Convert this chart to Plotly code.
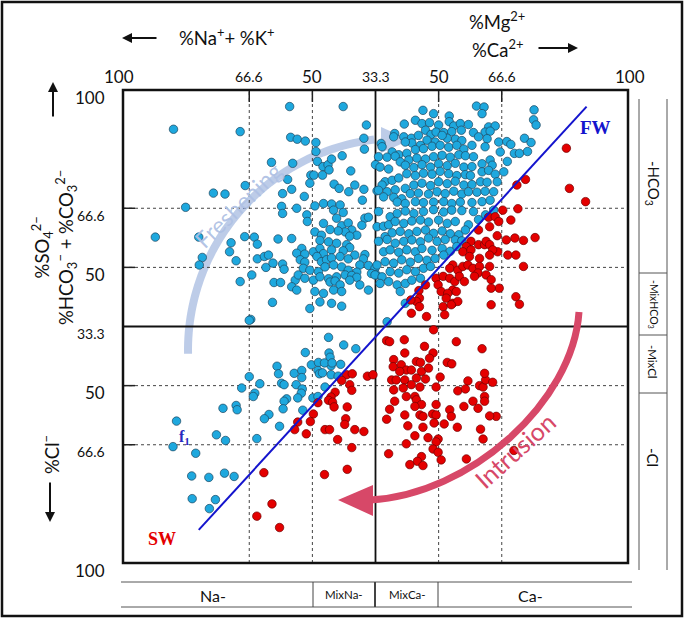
import numpy as np
import plotly.graph_objects as go

# ---------------- DATA (diagram units: 0-100 across / up the HFE-D box) ----------------
x_tick_pos = [0, 25, 37.5, 50, 62.5, 75, 100]
x_tick_txt = ["100", "66.6", "50", "33.3", "50", "66.6", "100"]
y_tick_pos = [100, 75, 62.5, 50, 37.5, 25, 0]
y_tick_txt = ["100", "66.6", "50", "33.3", "50", "66.6", "100"]

# freshening samples (blue) - upper left quadrant, outer part
fresh_ul = [
(10.0,91.7),(23.2,91.2),(33.0,96.5),(43.6,96.5),(48.2,92.6),(47.7,89.8),(47.8,87.5),
(33.2,90.0),(34.5,89.6),(36.1,89.2),(38.2,88.9),(38.2,87.0),(29.4,84.7),(33.6,84.5),
(38.5,84.9),(39.6,83.8),(40.6,84.2),(41.3,85.4),(43.4,86.1),
(37.2,82.0),(37.8,82.0),(39.5,82.0),(40.8,83.1),(32.6,81.1),(37.0,80.3),(45.1,82.9),
(24.2,79.8),(17.9,78.2),(20.2,78.0),(31.6,78.1),(33.4,79.0),(35.9,77.5),
(41.8,80.1),(42.8,79.2),(44.7,78.5),(45.9,79.9),(47.7,79.0),(47.4,76.7),
(12.4,75.2),(31.4,75.4),(31.6,73.9),
(6.4,68.9),(15.0,68.9),(21.4,67.7),(21.1,65.8),(24.1,69.0),(26.0,68.9),(26.6,67.4),(30.7,68.5),
(15.7,64.6),(15.1,63.0),(22.4,63.9),(23.2,59.5),
(26.6,64.3),(28.0,64.8),(28.8,65.1),(28.3,62.5),(29.7,63.4),(31.6,63.2),(31.9,62.1),
(25.5,60.9),(29.9,59.3),(31.2,59.3),(29.6,55.1),(25.3,51.5),(50.0,84.2),(50.3,78.7),
]
# freshening samples (blue) - upper left quadrant, dense core
fresh_ul_core = [
(34.4,75.0),(36.4,73.6),(36.5,72.2),(39.7,76.0),(41.3,75.9),(43.0,75.7),(38.0,75.5),(41.7,74.6),(43.6,74.1),
(42.3,72.9),(39.7,71.8),(43.3,71.3),(44.6,71.9),(45.3,70.4),(44.0,70.0),(42.6,70.2),(41.0,70.5),(47.9,72.9),
(47.3,71.4),(48.6,73.1),(46.3,69.3),(44.9,69.1),(33.4,68.6),(38.0,70.0),(39.3,69.3),(39.0,68.2),(40.7,67.9),
(42.3,67.6),(44.3,67.3),(44.9,66.7),(35.4,66.5),(34.4,65.5),(36.0,65.3),(37.7,65.8),(39.0,66.5),(39.7,65.4),
(41.3,66.2),(43.6,66.0),(45.9,65.1),(47.9,65.2),(47.6,64.3),(35.1,64.1),(36.0,63.6),(38.4,64.8),(39.3,63.7),
(40.3,64.1),(41.3,64.5),(43.0,64.8),(44.6,64.3),(46.9,63.0),(48.6,62.9),(49.9,62.3),(35.7,62.3),(37.0,61.9),
(38.7,61.6),(40.0,62.6),(41.7,63.0),(43.3,62.6),(44.6,61.9),(46.3,61.5),(34.1,59.8),(34.7,60.9),(36.0,60.2),
(37.7,59.8),(39.0,60.5),(40.7,60.1),(42.3,60.5),(44.0,60.9),(45.3,60.8),(46.3,60.4),(49.2,61.2),(50.2,60.9),
(41.0,59.4),(42.0,59.6),(43.0,58.8),(44.9,59.8),(46.9,58.8),(33.4,58.4),(34.4,57.7),(38.0,57.4),(39.7,57.0),
(41.7,57.7),(43.3,57.4),(48.6,57.7),(39.0,55.2),(41.3,54.9),(43.3,54.3),(37.0,53.8),
]
# freshening samples (blue) - upper right quadrant
fresh_ur = [
(59.4,95.7),(61.5,95.0),(64.6,94.5),(64.6,93.3),(70.0,96.6),(71.5,96.4),(71.1,95.0),(55.7,92.8),(57.9,93.6),
(59.2,92.9),(60.7,93.1),(62.5,92.6),(65.5,92.4),(66.8,92.9),(68.4,92.7),(72.4,92.2),(73.7,92.4),(53.8,90.8),
(53.6,90.1),(51.1,88.7),(51.3,88.0),(55.6,90.1),(57.1,89.8),(58.5,90.4),(59.9,91.5),(61.0,90.6),(62.0,91.1),
(63.5,91.0),(65.1,91.2),(67.0,91.5),(69.4,91.0),(71.7,91.1),(72.7,91.3),(74.4,89.0),(76.0,89.1),(72.1,89.7),
(70.4,90.1),(65.8,89.6),(67.1,89.3),(64.2,89.8),(63.2,90.4),(61.8,89.0),(60.2,89.4),(58.9,88.3),(57.2,88.8),
(55.9,89.0),(53.3,86.9),(54.6,86.3),(56.2,86.6),(57.9,87.4),(59.5,87.6),(61.2,88.1),(62.8,88.3),(64.5,87.9),
(66.1,88.3),(67.5,87.5),(69.1,88.3),(71.7,88.0),(74.7,86.9),(50.6,85.9),(52.3,85.8),(53.9,86.0),(54.9,84.8),
(56.6,85.2),(58.2,85.6),(59.9,85.4),(61.5,85.9),(63.2,86.2),(64.8,85.8),(66.5,86.3),(67.8,86.1),(69.4,85.9),
(71.1,84.4),(72.7,85.2),(73.1,84.1),(50.9,83.7),(52.6,83.3),(55.9,84.1),(57.6,83.6),(59.2,84.2),(60.9,83.7),
(62.5,84.4),(64.2,84.0),(65.8,84.5),(67.5,83.7),(69.1,83.8),(51.9,80.6),(51.3,79.9),(53.3,80.9),(54.6,81.4),
(56.2,82.3),(57.9,81.9),(59.5,82.4),(61.2,82.2),(62.8,82.8),(64.5,82.3),(66.1,81.9),(67.8,82.1),(68.8,81.9),
(71.1,82.7),(72.4,83.0),(73.7,82.2),(75.4,82.7),(50.6,78.8),(52.3,78.5),(53.9,78.9),(55.9,79.2),(57.6,79.9),
(59.2,80.3),(60.9,79.8),(62.5,80.6),(64.2,80.2),(65.8,80.7),(67.5,79.9),(69.1,80.0),(70.8,80.6),(72.1,80.5),
(74.1,80.6),(51.6,77.4),(53.6,77.3),(55.2,77.0),(56.9,78.1),(58.5,78.2),(60.5,78.0),(62.2,78.5),(63.8,78.1),
(65.5,78.6),(67.1,78.0),(68.4,78.5),(70.1,78.4),(71.7,78.6),(73.4,78.5),(54.3,76.3),(55.9,76.0),(57.9,76.4),
(59.5,76.2),(61.5,76.3),(63.5,76.4),(65.1,76.0),(66.8,76.3),(69.1,76.2),(71.1,76.4),(72.7,76.7),
(50.6,74.3),(52.9,73.2),(54.3,73.9),(55.9,74.4),(57.6,73.9),(59.5,74.3),(61.5,74.7),(63.5,74.2),(65.1,74.6),
(67.1,74.5),(69.4,74.3),(50.3,71.1),(51.6,71.2),(52.6,71.5),(53.9,72.2),(55.6,71.8),(57.2,72.3),(58.9,72.5),
(60.5,72.1),(62.5,72.5),(64.2,71.8),(65.8,72.2),(68.4,71.5),(70.4,72.6),(71.8,73.6),(73.4,74.6),(51.9,69.0),
(53.3,69.8),(54.9,70.1),(56.6,69.6),(58.2,70.1),(59.9,70.4),(61.5,69.7),(63.2,70.2),(64.8,69.6),(66.5,69.4),
(67.8,70.4),(50.6,68.0),(52.3,68.4),(53.9,67.6),(55.6,68.0),(57.2,68.3),(58.9,67.9),(60.5,68.7),(62.2,68.0),
(63.8,68.4),(65.8,68.3),(67.1,68.1),(51.6,65.8),(52.9,66.2),(54.6,65.7),(56.2,66.2),(57.9,65.8),(59.2,66.5),
(61.2,66.1),(63.2,66.5),(64.8,65.9),(66.1,66.9),(50.3,63.0),(51.9,63.7),(53.6,63.4),(55.2,64.1),(56.9,63.6),
(58.5,64.4),(60.2,64.0),(61.8,64.4),(63.5,65.1),(49.9,60.9),(51.3,60.5),(52.9,61.6),(54.6,61.3),(56.2,62.0),
(57.9,61.6),(59.5,62.3),(60.9,62.7),(50.9,59.1),(52.6,59.5),(54.3,58.8),(55.9,59.1),(57.2,59.8),(58.9,60.2),
(54.9,57.4),(55.9,54.9),(52.3,51.0),
(81.4,95.8),(81.3,93.7),(81.8,92.6),(79.5,89.8),(80.8,88.9),(76.8,88.5),(77.5,86.6),(78.5,86.6),(80.1,87.0),(76.1,84.9),
]
# freshening samples (blue) - lower half
fresh_low = [
(25.0,51.3),(40.7,47.7),(43.7,46.1),(46.1,45.3),(40.8,44.4),(41.0,43.5),(43.1,42.0),(41.2,41.7),(37.3,41.9),(38.7,42.4),
(39.9,42.3),(41.4,42.3),(36.1,44.5),
(30.5,41.6),(30.8,40.0),(33.9,40.1),(35.4,40.7),(35.4,39.2),(38.6,40.7),(38.9,40.0),(39.5,40.2),(41.2,39.8),(42.6,39.5),
(25.0,39.4),(27.1,37.9),(31.4,38.0),(31.9,37.7),(34.3,37.7),(35.5,36.8),(35.3,35.9),(34.6,34.9),(37.6,34.9),(38.6,35.2),
(40.0,37.2),(23.5,37.0),
(26.1,35.9),(25.8,35.2),(32.4,34.7),(31.9,34.2),(31.7,32.6),(35.6,32.3),(28.9,31.4),(28.0,30.5),(31.0,28.9),(26.5,26.3),
(22.4,33.3),(22.6,32.4),(19.8,32.7),(10.6,30.0),(18.5,27.1),(20.3,25.9),(9.9,24.6),(14.4,23.2),
(13.6,18.4),(17.0,18.1),(20.1,19.0),(22.0,18.3),(13.7,13.6),(18.3,13.4),(17.1,11.5),
]

# intrusion samples (red) - upper half
intr_up = [
(87.8,87.7),(88.4,79.2),(91.6,76.4),(79.7,81.1),(78.0,79.9),(78.2,74.9),(75.2,74.6),(76.8,72.5),
(72.4,73.1),(73.7,73.2),(74.4,72.2),(72.6,71.1),(70.4,70.4),(74.1,69.2),
(75.9,68.3),(77.6,68.7),(79.3,68.2),(81.6,68.8),
(68.9,68.0),(68.0,66.9),(67.3,65.8),(68.9,66.2),(70.4,67.3),(71.6,67.3),(71.9,68.0),(72.6,67.3),
(74.2,65.8),(73.2,66.2),(76.2,65.1),(77.8,65.1),(68.6,64.8),(70.6,64.4),(72.6,65.1),(79.3,62.7),
(65.3,63.0),(64.7,62.3),(66.3,61.9),(67.3,62.7),(68.3,63.0),
(69.3,62.3),(70.6,62.7),(72.6,62.7),(70.3,61.3),(69.6,60.6),
(71.9,60.9),(72.9,59.9),(74.5,58.1),(72.9,58.1),
(62.0,60.2),(63.4,60.6),(64.7,60.2),(65.7,59.5),(66.6,60.6),(67.6,59.5),(65.3,57.7),
(62.4,58.8),(63.0,57.4),(64.3,57.0),(66.0,57.4),(64.0,56.0),(65.3,54.9),(66.3,55.3),
(58.6,57.6),(59.9,58.8),(58.7,56.0),(58.1,55.3),
(57.0,55.6),(57.1,52.8),
(58.7,54.2),(60.1,52.1),(63.4,54.2),(65.0,54.6),(63.7,52.5),
(72.9,54.6),(77.8,56.3),(78.5,54.7),(61.5,49.3),
]
# intrusion samples (red) - lower left
intr_ll = [
(44.3,39.8),(45.4,40.0),(48.4,39.5),(43.3,38.6),(44.9,37.7),(45.3,36.5),(42.0,36.1),(41.2,35.1),(40.7,34.4),(41.5,34.0),
(41.8,33.0),(44.4,33.0),(38.6,33.9),(37.7,31.5),(34.6,29.8),(34.0,28.2),(37.1,29.9),(36.3,27.3),(40.0,28.2),(40.9,28.2),
(42.5,26.1),(44.1,30.5),(43.9,29.3),(45.9,28.2),(47.7,27.8),(45.3,24.4),(44.4,19.8),(39.9,18.7),(27.9,19.1),(29.5,12.5),
(26.5,9.9),(31.0,7.5),
]
# intrusion samples (red) - lower right
intr_lr = [
(52.2,47.0),(52.8,46.8),(55.7,47.2),(66.0,46.8),(71.1,45.3),(59.7,45.8),(55.8,44.4),(61.4,44.4),(60.7,43.3),(64.2,42.4),
(65.1,42.1),(53.6,43.0),(53.5,41.5),(55.1,41.9),(58.1,42.6),(58.9,42.4),(56.1,40.8),(57.1,40.8),(59.1,40.5),(60.5,41.2),
(54.8,40.5),(53.2,38.7),(54.1,38.7),(55.8,38.7),(58.1,39.1),(59.9,38.9),(49.5,39.8),(57.1,37.7),(58.8,37.2),(55.5,37.0),
(53.6,36.6),(62.0,37.2),(62.8,39.3),(68.3,38.5),(66.3,36.4),(67.8,36.8),(70.6,37.5),(71.3,37.2),(71.8,38.7),(73.2,38.2),
(71.6,40.1),(71.6,35.2),(71.6,34.2),(69.3,34.2),(67.5,33.1),(70.3,32.7),(53.8,34.2),(52.8,32.5),(56.1,35.2),(57.8,35.2),
(58.1,34.5),(59.1,33.5),(62.0,33.5),(57.8,33.1),(61.3,31.5),(62.0,31.3),(64.7,32.4),(65.0,31.0),(58.8,31.3),(59.4,31.0),
(55.8,31.3),(52.2,30.4),(56.4,29.0),(59.4,28.7),(61.6,29.6),(63.6,29.4),(66.2,28.7),(70.8,28.3),(71.3,26.2),(73.9,31.0),
(72.6,31.1),(57.8,26.9),(60.4,26.5),(62.4,26.2),(62.0,25.6),(56.1,25.2),(61.4,24.1),(62.4,23.4),(63.0,21.8),(68.0,22.0),
(52.6,23.1),(59.1,22.5),(58.3,21.5),(56.8,20.8),(59.4,20.6),(77.4,23.8),
]
# mixing line SW -> FW
mix_x = [15.0, 91.8]
mix_y = [7.0, 96.5]

blue = fresh_ul + fresh_ul_core + fresh_ur + fresh_low
red = intr_up + intr_ll + intr_lr
blue_x = [p[0] for p in blue]; blue_y = [p[1] for p in blue]
red_x = [p[0] for p in red]; red_y = [p[1] for p in red]

# ---------------- LAYOUT HELPERS ----------------
W, H = 685, 620
L, T, R, B = 123, 90, 57, 57
PW, PH = W - L - R, H - T - B
def fx(p): return (p - L) / PW
def fy(p): return (H - B - p) / PH
FONT = "Lato, Open Sans, sans-serif"
SERIF = "Liberation Serif, DejaVu Serif, serif"

fig = go.Figure()
fig.add_trace(go.Scatter(x=blue_x, y=blue_y, mode="markers",
    marker=dict(size=8.5, color="rgb(30,168,222)", line=dict(color="rgb(30,70,95)", width=0.7)),
    showlegend=False, hoverinfo="skip"))
fig.add_trace(go.Scatter(x=red_x, y=red_y, mode="markers",
    marker=dict(size=8.5, color="rgb(228,0,0)", line=dict(color="rgb(110,0,0)", width=0.7)),
    showlegend=False, hoverinfo="skip"))
fig.add_trace(go.Scatter(x=mix_x, y=mix_y, mode="lines",
    line=dict(color="rgb(20,20,205)", width=2), showlegend=False, hoverinfo="skip"))

shapes = []
for v in [25, 37.5, 62.5, 75]:
    shapes.append(dict(type="line", xref="x", yref="y", x0=v, x1=v, y0=0, y1=100, layer="below",
                       line=dict(color="#444", width=1, dash="3px,3px")))
    shapes.append(dict(type="line", xref="x", yref="y", x0=0, x1=100, y0=v, y1=v, layer="below",
                       line=dict(color="#444", width=1, dash="3px,3px")))
    shapes.append(dict(type="line", xref="x", yref="paper", x0=v, x1=v, y0=1, y1=1 - 12 / PH,
                       line=dict(color="#222", width=1.5)))
    shapes.append(dict(type="line", xref="paper", yref="y", x0=0, x1=12 / PW, y0=v, y1=v,
                       line=dict(color="#222", width=1.5)))
shapes.append(dict(type="line", xref="x", yref="y", x0=50, x1=50, y0=0, y1=100, layer="below",
                   line=dict(color="#111", width=1.8)))
shapes.append(dict(type="line", xref="x", yref="y", x0=0, x1=100, y0=50, y1=50, layer="below",
                   line=dict(color="#111", width=1.8)))
shapes.append(dict(type="rect", xref="paper", yref="paper", x0=0, x1=1, y0=0, y1=1,
                   line=dict(color="#111", width=2.5)))
shapes.append(dict(type="rect", xref="paper", yref="paper", x0=fx(2), x1=fx(682), y0=fy(2), y1=fy(616),
                   line=dict(color="#111", width=2.5)))
for xx in [639, 667]:
    shapes.append(dict(type="line", xref="paper", yref="paper", x0=fx(xx), x1=fx(xx), y0=fy(99), y1=fy(570),
                       line=dict(color="#555", width=1)))
for yy in [273, 335, 393]:
    shapes.append(dict(type="line", xref="paper", yref="paper", x0=fx(639), x1=fx(667), y0=fy(yy), y1=fy(yy),
                       line=dict(color="#555", width=1)))
for yy in [582, 607]:
    shapes.append(dict(type="line", xref="paper", yref="paper", x0=fx(121), x1=fx(632), y0=fy(yy), y1=fy(yy),
                       line=dict(color="#555", width=1)))
for xx, wd in [(313, 1), (375, 2), (438, 1)]:
    shapes.append(dict(type="line", xref="paper", yref="paper", x0=fx(xx), x1=fx(xx), y0=fy(582), y1=fy(607),
                       line=dict(color="#444", width=wd)))

# Freshening arc + arrowhead (behind the samples)
FR = "rgba(182,199,230,0.9)"
th = np.radians(np.linspace(181, 97, 60))
cx, cy, rr = 400, 350, 212
ax_ = cx + rr * np.cos(th); ay_ = cy - rr * np.sin(th)
path = "M " + " L ".join(f"{fx(a):.5f},{fy(b):.5f}" for a, b in zip(ax_, ay_))
shapes.append(dict(type="path", xref="paper", yref="paper", path=path, layer="below",
                   line=dict(color=FR, width=8)))
tri = [(410, 140), (381, 127), (381, 153)]
shapes.append(dict(type="path", xref="paper", yref="paper", layer="below",
                   path="M " + " L ".join(f"{fx(a):.5f},{fy(b):.5f}" for a, b in tri) + " Z",
                   fillcolor=FR, line=dict(width=0)))
# Intrusion arc + arrowhead
IN = "rgb(215,72,104)"
P = [(579, 312), (573, 402), (470, 495), (370, 500)]
path = (f"M {fx(P[0][0]):.5f},{fy(P[0][1]):.5f} C " +
        " ".join(f"{fx(a):.5f},{fy(b):.5f}" for a, b in P[1:]))
shapes.append(dict(type="path", xref="paper", yref="paper", path=path,
                   line=dict(color=IN, width=7)))
tri = [(338, 500), (373, 485), (373, 516)]
shapes.append(dict(type="path", xref="paper", yref="paper",
                   path="M " + " L ".join(f"{fx(a):.5f},{fy(b):.5f}" for a, b in tri) + " Z",
                   fillcolor=IN, line=dict(width=0)))

ann = []
def txt(x, y, t, size, color="#111", angle=0, family=FONT, xanchor="center"):
    ann.append(dict(x=fx(x), y=fy(y), xref="paper", yref="paper", text=t, showarrow=False,
                    font=dict(size=size, color=color, family=family), textangle=angle,
                    xanchor=xanchor, yanchor="middle"))
def arrow(hx, hy, tx, ty):
    ann.append(dict(x=fx(hx), y=fy(hy), xref="paper", yref="paper", ax=tx - hx, ay=ty - hy,
                    axref="pixel", ayref="pixel", text="", showarrow=True, arrowhead=2,
                    arrowsize=1, arrowwidth=2, arrowcolor="#111"))

for v, t in zip(x_tick_pos, x_tick_txt):
    big = t in ("100", "50")
    ann.append(dict(x=v, y=fy(77), xref="x", yref="paper", text=t, showarrow=False,
                    font=dict(size=17 if big else 14, color="#111", family=FONT),
                    xanchor="center", yanchor="middle", xshift=-4 if v == 0 else (2 if v == 100 else 0)))
for v, t in zip(y_tick_pos, y_tick_txt):
    big = t in ("100", "50")
    ann.append(dict(x=fx(107), y=v, xref="paper", yref="y", text=t, showarrow=False,
                    font=dict(size=17 if big else 14, color="#111", family=FONT),
                    xanchor="right", yanchor="middle", yshift=-7))

txt(226, 36, "%Na<sup>+</sup>+ %K<sup>+</sup>", 18.5)
arrow(122, 38, 158, 38)
txt(497, 21, "%Mg<sup>2+</sup>", 18.5)
txt(497, 48, "%Ca<sup>2+</sup>", 18.5)
arrow(578, 48, 537, 48)
txt(54, 248, "%SO<sub>4</sub><sup>2−</sup><br>%HCO<sub>3</sub><sup>−</sup> + %CO<sub>3</sub><sup>2−</sup>", 18.5, angle=-90)
arrow(53, 82, 53, 118)
txt(50, 455, "%Cl<sup>−</sup>", 18.5, angle=-90)
arrow(50, 522, 50, 481)

txt(653, 183, "-HCO<sub>3</sub>", 15, angle=90)
txt(653, 304, "-MixHCO<sub>3</sub>", 10.5, angle=90)
txt(653, 362, "-MixCl", 11.5, angle=90)
txt(653, 457, "-Cl", 15, angle=90)
txt(213, 595, "Na-", 16)
txt(344, 594, "MixNa-", 11.5)
txt(407, 594, "MixCa-", 11.5)
txt(530, 595, "Ca-", 16)

txt(595, 127, "<b>FW</b>", 19, color="rgb(20,20,205)", family=SERIF)
txt(162, 539, "<b>SW</b>", 18, color="rgb(228,0,0)", family=SERIF)
txt(184, 437, "<b>f<sub>1</sub></b>", 16, color="rgb(40,40,190)", family=SERIF)
txt(238, 205, "Freshening", 23, color="rgba(175,193,228,0.95)", angle=-44)
txt(515, 450, "Intrusion", 25, color=IN, angle=-42)

fig.update_layout(
    width=W, height=H, autosize=False,
    margin=dict(l=L, r=R, t=T, b=B, pad=0),
    paper_bgcolor="white", plot_bgcolor="white",
    xaxis=dict(range=[0, 100], showgrid=False, zeroline=False, showticklabels=False, ticks="", showline=False, fixedrange=True),
    yaxis=dict(range=[0, 100], showgrid=False, zeroline=False, showticklabels=False, ticks="", showline=False, fixedrange=True),
    shapes=shapes, annotations=ann, showlegend=False,
)
fig.write_html("out.html")
